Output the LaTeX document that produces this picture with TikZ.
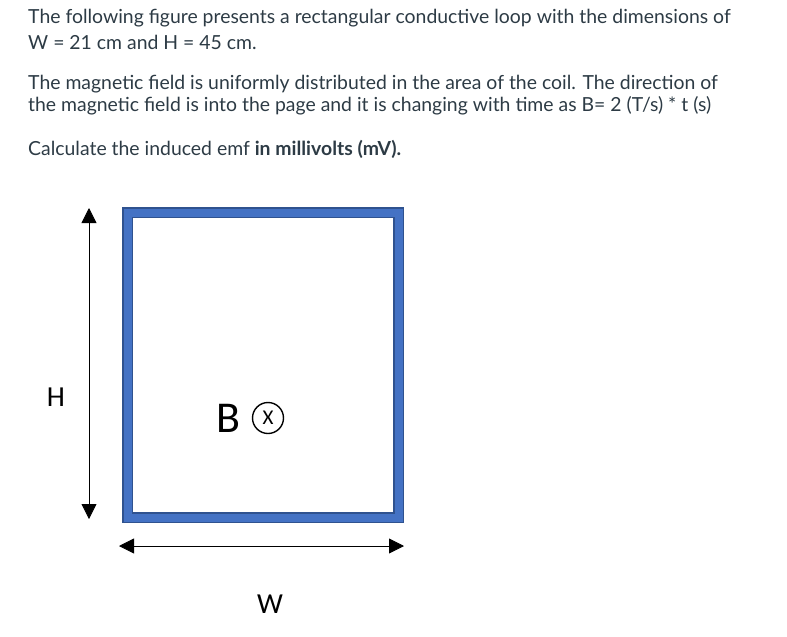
\documentclass[tikz,border=0pt]{standalone}
\usepackage{fontspec}
\setmainfont{Lato}
\newfontfamily\carlitofont{Carlito}
\usetikzlibrary{arrows.meta}
\definecolor{txt}{HTML}{2D3B45}
\definecolor{loopblue}{HTML}{4472C4}
\definecolor{loopdark}{HTML}{2F528F}
\begin{document}
\begin{tikzpicture}[x=1pt,y=-1pt,
  para/.style={anchor=west,inner sep=0,text=txt,font=\fontsize{19.4}{22}\selectfont},
  lbl/.style={font=\carlitofont\fontsize{29}{32}\selectfont,inner sep=0},
  dim/.style={line width=0.8pt,{Triangle[length=15pt,width=15pt]}-{Triangle[length=15pt,width=15pt]}}]
\useasboundingbox (0,0) rectangle (787,637);
\node[para] (t1) at (28,18) {The following figure presents a rectangular conductive loop with the dimensions of};
\node[para] (t2) at (28,42) {W = 21 cm and H = 45 cm.};
\node[para] (t3) at (28,84) {The magnetic field is uniformly distributed in the area of the coil. The direction of};
\node[para] (t4) at (28,106) {the magnetic field is into the page and it is changing with time as B= 2 (T/s) * t (s)};
\node[para] (t5) at (28,149) {Calculate the induced emf \textbf{in millivolts (mV).}};
\draw[loopdark,line width=11pt] (127.5,212.5) rectangle (398.5,517.5);
\draw[loopblue,line width=8pt] (127.5,212.5) rectangle (398.5,517.5);
\coordinate (vt) at (89,208);
\coordinate (vb) at (89,519);
\draw[dim] (vt) -- (vb);
\coordinate (hl) at (119,546);
\coordinate (hr) at (404,546);
\draw[dim] (hl) -- (hr);
\node[lbl] (H) at (56,397) {H};
\node[lbl] (W) at (270,604) {W};
\node[lbl,font=\carlitofont\fontsize{44}{48}\selectfont] (B) at (228,418) {B};
\node[circle,draw,line width=1.4pt,minimum size=31pt,inner sep=0,font=\carlitofont\fontsize{21}{24}\selectfont] (x) at (268,418) {X};
\end{tikzpicture}
\end{document}
